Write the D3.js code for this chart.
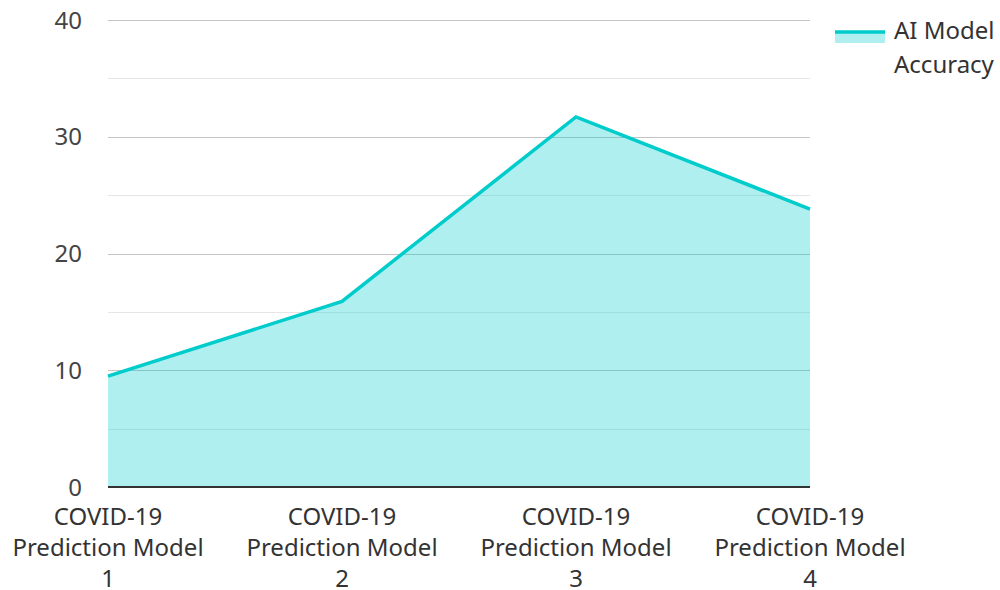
<!DOCTYPE html>
<html><head><meta charset="utf-8">
<script src="https://cdn.jsdelivr.net/npm/d3@7"></script>
<style>body{margin:0;background:#fff;} text{font-family:"Noto Sans","Open Sans",sans-serif;}</style>
</head><body><svg id="c" width="1000" height="590"></svg>
<script>
const categories = ["COVID-19 Prediction Model 1","COVID-19 Prediction Model 2","COVID-19 Prediction Model 3","COVID-19 Prediction Model 4"];
const labelLines = [["COVID-19","Prediction Model","1"],["COVID-19","Prediction Model","2"],["COVID-19","Prediction Model","3"],["COVID-19","Prediction Model","4"]];
const values = [9.5, 15.9, 31.7, 23.8];
const yTicks = [0,10,20,30,40];
const minorTicks = [5,15,25,35];
const seriesName = ["AI Model","Accuracy"];

const svg = d3.select("#c");
const L=108, R=810, T=20, B=487;
const x = d3.scalePoint().domain(categories).range([L,R]);
const y = d3.scaleLinear().domain([0,40]).range([B,T]);

const g = svg.append("g").attr("shape-rendering","crispEdges");
g.selectAll(".minor").data(minorTicks).enter().append("line")
 .attr("x1",L).attr("x2",R).attr("y1",d=>Math.round(y(d))+0.5).attr("y2",d=>Math.round(y(d))+0.5)
 .attr("stroke","#e6e6e6").attr("stroke-width",1);
g.selectAll(".major").data(yTicks.filter(d=>d>0)).enter().append("line")
 .attr("x1",L).attr("x2",R).attr("y1",d=>Math.round(y(d))+0.5).attr("y2",d=>Math.round(y(d))+0.5)
 .attr("stroke","#c4c4c4").attr("stroke-width",1);

const area = d3.area().x((d,i)=>x(categories[i])).y0(B).y1(d=>y(d));
svg.append("path").datum(values).attr("d",area).attr("fill","#00cccc").attr("fill-opacity",0.31);
const line = d3.line().x((d,i)=>x(categories[i])).y(d=>y(d));
svg.append("path").datum(values).attr("d",line).attr("fill","none").attr("stroke","#00cccc").attr("stroke-width",3.5);

svg.append("line").attr("x1",L).attr("x2",R).attr("y1",B).attr("y2",B).attr("stroke","#333").attr("stroke-width",2);

svg.selectAll(".yl").data(yTicks).enter().append("text")
 .attr("x",82).attr("y",d=>y(d)+8.5).attr("text-anchor","end")
 .attr("font-size",24).attr("fill","#444").text(d=>d);

categories.forEach((c,i)=>{
  const t = svg.append("text").attr("text-anchor","middle").attr("font-size",24).attr("fill","#333");
  labelLines[i].forEach((s,j)=>{
    t.append("tspan").attr("x",x(c)).attr("y",525+j*31).text(s);
  });
});

// legend
svg.append("rect").attr("x",835).attr("y",32).attr("width",50).attr("height",11).attr("fill","#00cccc").attr("fill-opacity",0.31);
svg.append("line").attr("x1",835).attr("x2",885).attr("y1",32).attr("y2",32).attr("stroke","#00cccc").attr("stroke-width",3.5);
svg.append("text").attr("x",894).attr("y",39).attr("font-size",24).attr("fill","#333").text(seriesName[0]);
svg.append("text").attr("x",894).attr("y",73).attr("font-size",24).attr("fill","#333").text(seriesName[1]);
</script></body></html>
